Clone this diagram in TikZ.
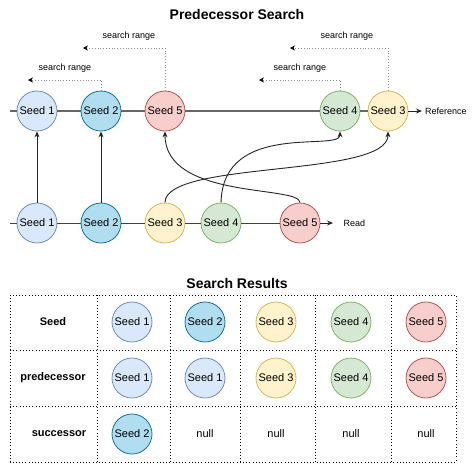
\documentclass[tikz,border=0pt]{standalone}
\usepackage{fontspec}
\setmainfont{Liberation Sans}
\usetikzlibrary{arrows.meta,positioning}
\definecolor{fillA}{HTML}{DAE8FC}\definecolor{lineA}{HTML}{6C8EBF}
\definecolor{fillB}{HTML}{B1DDF0}\definecolor{lineB}{HTML}{10739E}
\definecolor{fillC}{HTML}{FFF2CC}\definecolor{lineC}{HTML}{D6B656}
\definecolor{fillD}{HTML}{D5E8D4}\definecolor{lineD}{HTML}{82B366}
\definecolor{fillE}{HTML}{F8CECC}\definecolor{lineE}{HTML}{B85450}

\begin{document}
\begin{tikzpicture}[x=1pt, y=-1pt,
    seed/.style={circle, draw, line width=0.8pt, minimum size=40pt, inner sep=0pt, font=\fontsize{11}{13}\selectfont},
    sa/.style={seed, fill=fillA, draw=lineA},
    sb/.style={seed, fill=fillB, draw=lineB},
    sc/.style={seed, fill=fillC, draw=lineC},
    sd/.style={seed, fill=fillD, draw=lineD},
    se/.style={seed, fill=fillE, draw=lineE},
    refline/.style={line width=1.3pt, draw=black!60},
    readline/.style={line width=0.9pt, draw=black!75},
    arr/.style={-{Stealth[length=6pt, width=5pt]}, line width=0.9pt, draw=black!85},
    searchrange/.style={dotted, line width=0.8pt, draw=black!45, -{Stealth[length=5pt, width=5pt, color=black]}},
    small/.style={font=\fontsize{9}{11}\selectfont},
    head/.style={font=\bfseries\fontsize{14}{17}\selectfont},
    cell/.style={line width=1pt, dash pattern=on 1pt off 2.2pt},
    rowname/.style={font=\bfseries\fontsize{11}{13}\selectfont},
    plain/.style={font=\fontsize{11}{13}\selectfont}
]
\useasboundingbox (0,0) rectangle (474,469);

% predecessor search
\node[head] (title) at (237,14) {Predecessor Search};

\node[sa] (r1) at (37,111) {Seed 1};
\node[sb] (r2) at (101,111) {Seed 2};
\node[se] (r5) at (165,111) {Seed 5};
\node[sd] (r4) at (340,111) {Seed 4};
\node[sc] (r3) at (388,111) {Seed 3};
\coordinate (rstart) at (10,111);
\node[small, anchor=west, inner sep=0pt] (reftext) at (425,111) {Reference};

\draw[refline] (rstart) -- (r1.west) (r1.east) -- (r2.west) (r2.east) -- (r5.west)
    (r5.east) -- (r4.west) (r4.east) -- (r3.west);
\draw[arr] (r3.east) -- ([xshift=-3pt]reftext.west);

\node[sa] (q1) at (37,223) {Seed 1};
\node[sb] (q2) at (101,223) {Seed 2};
\node[sc] (q3) at (165,223) {Seed 3};
\node[sd] (q4) at (221,223) {Seed 4};
\node[se] (q5) at (300,223) {Seed 5};
\coordinate (qstart) at (10,223);
\coordinate (qend) at (333,223);
\node[small, anchor=west] (readtext) at (340,223) {Read};

\draw[readline] (qstart) -- (q1.west) (q1.east) -- (q2.west) (q2.east) -- (q3.west)
    (q3.east) -- (q4.west) (q4.east) -- (q5.west);
\draw[arr] (q5.east) -- (qend);

\draw[arr] (q1.north) -- (r1.south);
\draw[arr] (q2.north) -- (r2.south);
\draw[arr] (q3.north) .. controls (165,160) and (388,178) .. (r3.south);
\draw[arr] (q4.north) .. controls (223,120) and (340,152) .. (r4.south);
\draw[arr] (q5.north) .. controls (300,185) and (165,200) .. (r5.south);

% search ranges
\coordinate (sr2) at (28,80);
\coordinate (sr5) at (83,48);
\coordinate (sr4) at (259,80);
\coordinate (sr3) at (290,48);
\draw[searchrange] (r2.north) |- (sr2);
\draw[searchrange] (r5.north) |- (sr5);
\draw[searchrange] (r4.north) |- (sr4);
\draw[searchrange] (r3.north) |- (sr3);
\node[small] (lab2) at (65,68) {search range};
\node[small] (lab5) at (129,36) {search range};
\node[small] (lab4) at (300,68) {search range};
\node[small] (lab3) at (347,36) {search range};

% search results
\node[head] (title2) at (237,283) {Search Results};

\draw[cell] (10,295) rectangle (456,462);
\draw[cell] (10,350) -- (456,350) (10,406) -- (456,406);
\draw[cell] (97,295) -- (97,462) (170,295) -- (170,462) (240,295) -- (240,462)
    (315,295) -- (315,462) (391,295) -- (391,462);

\node[rowname] (hseed) at (53,322) {Seed};
\node[rowname] (hpred) at (53,378) {predecessor};
\node[rowname] (hsucc) at (59,434) {successor};

\node[sa] (t11) at (132,322) {Seed 1};
\node[sb] (t12) at (205,322) {Seed 2};
\node[sc] (t13) at (276,322) {Seed 3};
\node[sd] (t14) at (351,322) {Seed 4};
\node[se] (t15) at (426,322) {Seed 5};

\node[sa] (t21) at (132,378) {Seed 1};
\node[sa] (t22) at (205,378) {Seed 1};
\node[sc] (t23) at (276,378) {Seed 3};
\node[sd] (t24) at (351,378) {Seed 4};
\node[se] (t25) at (426,378) {Seed 5};

\node[sb] (t31) at (132,434) {Seed 2};
\node[plain] (t32) at (205,434) {null};
\node[plain] (t33) at (276,434) {null};
\node[plain] (t34) at (351,434) {null};
\node[plain] (t35) at (426,434) {null};
\end{tikzpicture}
\end{document}
